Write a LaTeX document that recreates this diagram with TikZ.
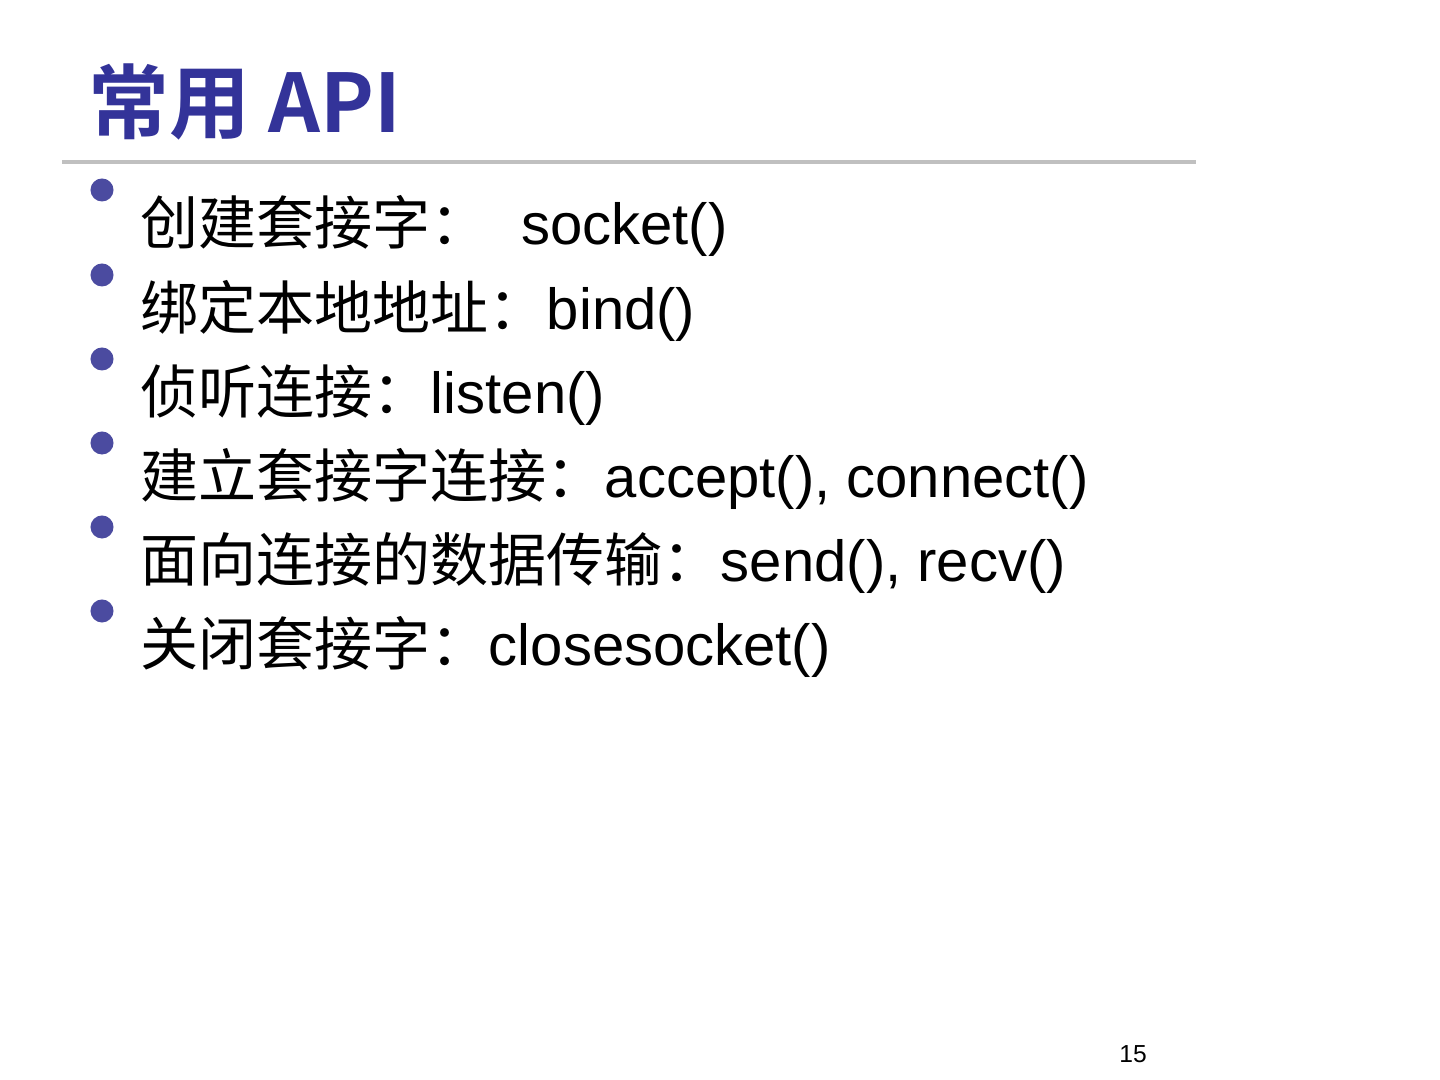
\documentclass[tikz,border=0pt]{standalone}
\usepackage{fontspec}
\setmainfont{Liberation Sans}
\newfontfamily\cjk{Noto Sans CJK SC}
\newfontfamily\cjkb{Noto Sans CJK SC Bold}
\definecolor{titleblue}{RGB}{51,51,153}
\definecolor{bulletblue}{RGB}{75,75,160}
\definecolor{rulegray}{RGB}{192,192,192}
\begin{document}
\begin{tikzpicture}[x=0.01cm,y=-0.01cm,
  item/.style={anchor=base west,inner sep=0,font=\fontsize{16.5}{18}\selectfont},
  dot/.style={circle,fill=bulletblue,inner sep=0,minimum size=0.23cm}]
\useasboundingbox (0,0) rectangle (1440,1080);
\node[anchor=base west,inner sep=0,text=titleblue,font=\fontsize{23}{26}\selectfont\cjkb] (title) at (88,133) {常用 API};
\draw[rulegray,line width=1.4pt] (62,162) -- (1196,162);
\foreach \y/\t [count=\i] in {245/{{\cjk 创建套接字：}\ \ socket()},
  330/{{\cjk 绑定本地地址：}bind()},
  414/{{\cjk 侦听连接：}listen()},
  498/{{\cjk 建立套接字连接：}accept(), connect()},
  582/{{\cjk 面向连接的数据传输：}send(), recv()},
  666/{{\cjk 关闭套接字：}closesocket()}}{
  \node[dot] (b\i) at (102,\y-55) {};
  \node[item] (t\i) at (140,\y) {\t};
}
\node[anchor=base,inner sep=0,font=\fontsize{7}{8}\selectfont] (page) at (1133,1062) {15};
\end{tikzpicture}
\end{document}
